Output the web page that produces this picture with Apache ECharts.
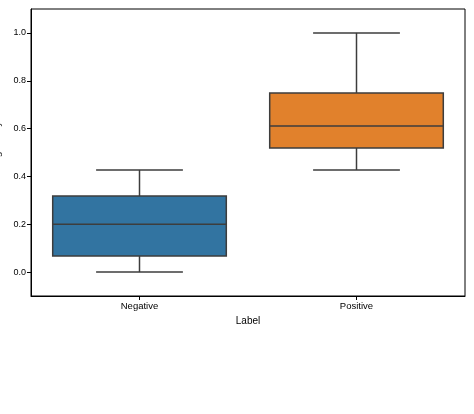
<!DOCTYPE html>
<html><head><meta charset="utf-8">
<script src="https://cdn.jsdelivr.net/npm/echarts@6/dist/echarts.min.js"></script>
<style>html,body{margin:0;padding:0;background:#fff}#c{width:474px;height:414px}</style>
</head><body><div id="c"></div>
<script>
const categories = ['Negative', 'Positive'];
const boxNegative = [0.0, 0.067, 0.2, 0.318, 0.427];
const boxPositive = [0.427, 0.519, 0.611, 0.749, 1.0];
const colors = ['#3274a1', '#e1812c'];
const yTicks = [0.0, 0.2, 0.4, 0.6, 0.8, 1.0];

const chart = echarts.init(document.getElementById('c'));
const font = 'Liberation Sans, Arial, sans-serif';
const stroke = {stroke: '#3d3d3d', lineWidth: 1.5};
chart.setOption({
  animation: false,
  grid: {left: 31, right: 9, top: 9, bottom: 118, containLabel: false, outerBoundsMode: 'none'},
  xAxis: {
    type: 'category', data: categories, name: 'Label', nameLocation: 'middle', nameGap: 20,
    nameTextStyle: {color: '#000', fontSize: 10, fontFamily: font},
    axisLine: {show: true, onZero: false, lineStyle: {color: '#000', width: 1}},
    axisTick: {show: true, alignWithLabel: true, length: 4, lineStyle: {color: '#000'}},
    axisLabel: {color: '#000', fontSize: 9.5, fontFamily: font, margin: 5},
    splitLine: {show: false}
  },
  yAxis: {
    type: 'value', min: -0.1, max: 1.1, name: 'Binding affinity', nameLocation: 'middle', nameGap: 22,
    nameTextStyle: {color: '#000', fontSize: 9.5, fontFamily: font},
    axisLine: {show: true, lineStyle: {color: '#000', width: 1}},
    axisTick: {show: true, length: 4, lineStyle: {color: '#000'}, customValues: yTicks},
    axisLabel: {color: '#000', fontSize: 9, fontFamily: font, margin: 5, customValues: yTicks,
      formatter: v => v.toFixed(1)},
    splitLine: {show: false}
  },
  series: [{
    type: 'custom',
    data: [[0].concat(boxNegative), [1].concat(boxPositive)],
    encode: {x: 0, y: [1, 2, 3, 4, 5]},
    renderItem: function (params, api) {
      const i = api.value(0);
      const band = api.size([1, 0])[0];
      const w = band * 0.8, cw = w / 2;
      const p = k => api.coord([i, api.value(k)]);
      const lo = p(1), q1 = p(2), md = p(3), q3 = p(4), hi = p(5);
      const x = lo[0];
      return {type: 'group', children: [
        {type: 'line', shape: {x1: x, y1: lo[1], x2: x, y2: q1[1]}, style: stroke},
        {type: 'line', shape: {x1: x, y1: q3[1], x2: x, y2: hi[1]}, style: stroke},
        {type: 'line', shape: {x1: x - cw / 2, y1: lo[1], x2: x + cw / 2, y2: lo[1]}, style: stroke},
        {type: 'line', shape: {x1: x - cw / 2, y1: hi[1], x2: x + cw / 2, y2: hi[1]}, style: stroke},
        {type: 'rect', shape: {x: x - w / 2, y: q3[1], width: w, height: q1[1] - q3[1]},
          style: Object.assign({fill: colors[i]}, stroke)},
        {type: 'line', shape: {x1: x - w / 2, y1: md[1], x2: x + w / 2, y2: md[1]}, style: stroke}
      ]};
    }
  }],
  graphic: [{type: 'rect', shape: {x: 31, y: 9, width: 434, height: 287},
    style: {fill: 'none', stroke: '#000', lineWidth: 1}, silent: true}]
});
</script></body></html>
